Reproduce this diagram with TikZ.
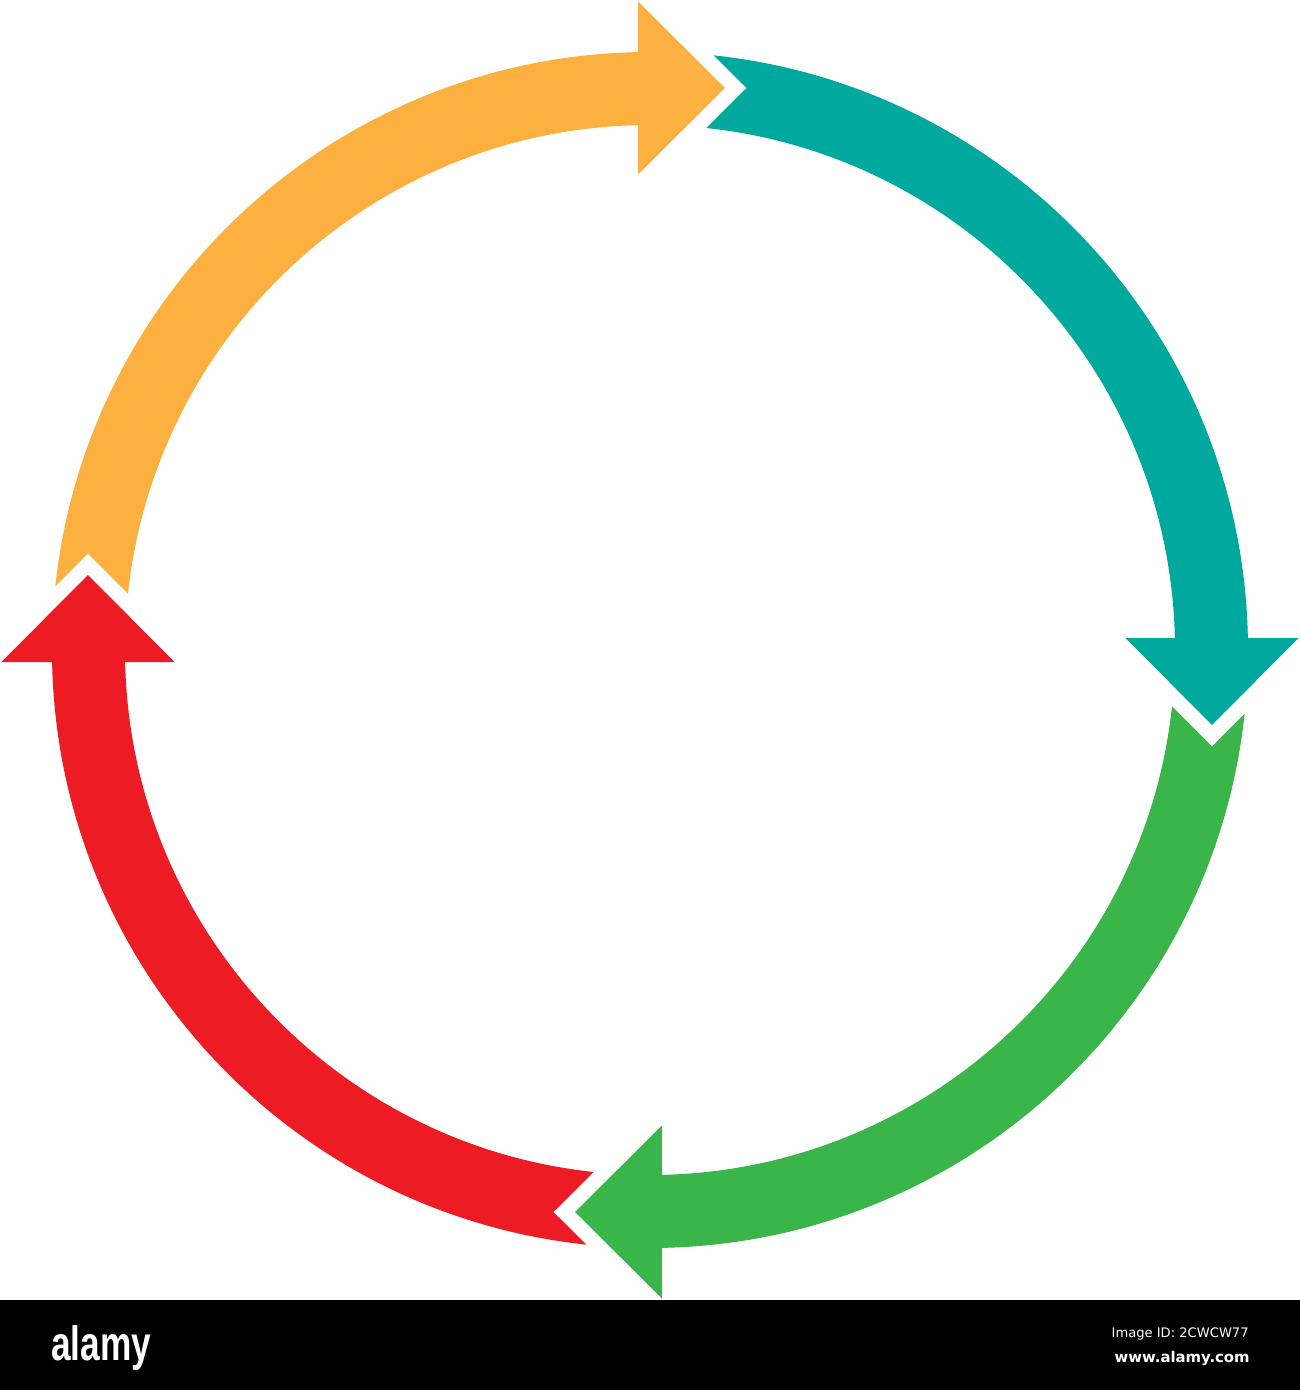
\documentclass[tikz,border=0pt]{standalone}
\usepackage{fontspec}
\usepackage{graphicx}
\newfontfamily\dejavu{DejaVu Sans}
\newfontfamily\libsans{Liberation Sans}
\definecolor{arrOrange}{HTML}{FBB040}
\definecolor{arrTeal}{HTML}{00A99D}
\definecolor{arrGreen}{HTML}{39B54A}
\definecolor{arrRed}{HTML}{ED1C24}
\tikzset{
  gapline/.style={draw=white, line width=0.6cm, line join=miter},
  bannertext/.style={inner sep=0pt, text=white},
}
\newcommand\ringbody[1]{\fill[#1] (178:598) arc[start angle=178,end angle=90,radius=598] -- (90:525) arc[start angle=90,end angle=178,radius=525] -- cycle;}
\newcommand\ringhead[1]{\draw[gapline] (-12,648.5) -- (75,562) -- (-12,475.5); \fill[#1] (-12,648.5) -- (75,562) -- (-12,475.5) -- cycle;}
\begin{document}
\begin{tikzpicture}[x=0.02cm,y=0.02cm]
\useasboundingbox (-650,-740) rectangle (650,650);
\fill[white] (-650,-740) rectangle (650,650);
% arrow bodies
\begin{scope}[rotate=0]\ringbody{arrOrange}\end{scope}
\begin{scope}[rotate=-90]\ringbody{arrTeal}\end{scope}
\begin{scope}[rotate=-180]\ringbody{arrGreen}\end{scope}
\begin{scope}[rotate=-270]\ringbody{arrRed}\end{scope}
% arrow heads with white gap
\begin{scope}[rotate=0]\ringhead{arrOrange}\end{scope}
\begin{scope}[rotate=-90]\ringhead{arrTeal}\end{scope}
\begin{scope}[rotate=-180]\ringhead{arrGreen}\end{scope}
\begin{scope}[rotate=-270]\ringhead{arrRed}\end{scope}
% banner
\fill[black] (-650,-740) rectangle (650,-650);
\node[bannertext, anchor=north west] (logo) at (-599,-675) {\resizebox*{2cm}{0.9cm}{\libsans\bfseries alamy}};
\node[bannertext, anchor=base east] (imgid) at (599,-687) {\resizebox{2.74cm}{!}{\dejavu Image ID: 2CWCW77}};
\node[bannertext, anchor=base east] (url) at (600,-712) {\resizebox{2.7cm}{!}{\dejavu\bfseries www.alamy.com}};
\end{tikzpicture}
\end{document}
